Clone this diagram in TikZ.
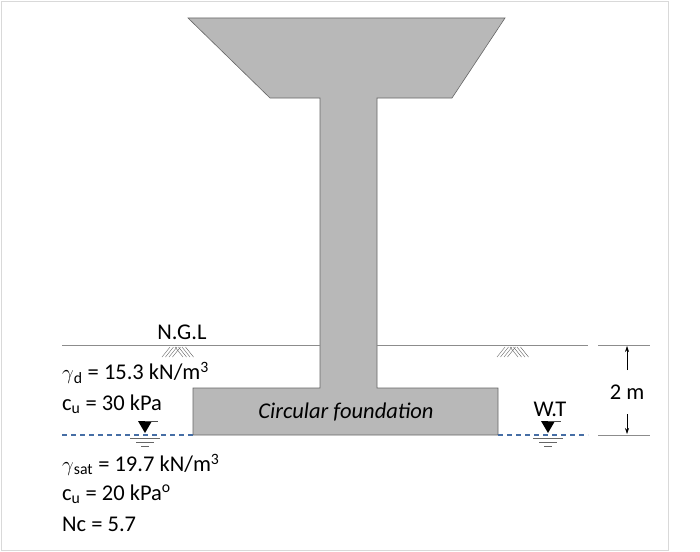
\documentclass[tikz,border=0pt]{standalone}
\usepackage{fontspec}
\setmainfont{Carlito}
\usetikzlibrary{arrows.meta}
\definecolor{wtblue}{RGB}{70,110,165}
\begin{document}
\begin{tikzpicture}[x=1pt,y=-1pt,
  body/.style={fill=black!28,draw=black!60,line width=0.6pt},
  gl/.style={draw=black!45,line width=0.8pt},
  wt/.style={draw=wtblue,dash pattern=on 5pt off 4pt,line width=1.4pt},
  hat/.style={draw=black!60,line width=0.4pt},
  fnt/.style={font=\fontsize{22.5}{26}\selectfont},
  txt/.style={fnt,anchor=west,inner sep=0pt},
  dim/.style={draw=black,line width=0.6pt,-{Stealth[length=6pt,width=4pt]}}]
\useasboundingbox (0,0) rectangle (700,551);
\draw[black!15] (1,1) rectangle (668,550);
% structure
\path[body] (188,18) -- (505,18) -- (452,98) -- (377,98) -- (377,388) -- (498,388) -- (498,435) -- (193,435) -- (193,388) -- (320,388) -- (320,98) -- (270,98) -- cycle;
\node[font=\fontsize{22.5}{26}\selectfont\itshape] (cf) at (346,412) {Circular foundation};
% ground
\draw[gl] (62,345) -- (320,345);
\draw[gl] (377,345) -- (588,345);
\draw[gl] (598,345) -- (650,345);
\draw[gl] (598,435) -- (650,435);
\node[fnt] (ngl) at (182,332) {N.G.L};
\foreach \cx in {175,510}{
 \foreach \i in {0,...,3} \draw[hat] (\cx-13+\i*3.5,357) -- (\cx-5+\i*3.5,347);
 \foreach \i in {0,...,3} \draw[hat] (\cx+\i*3.5,347) -- (\cx+8+\i*3.5,357);
}
% water
\draw[wt] (62,435) -- (193,435);
\draw[wt] (498,435) -- (588,435);
\foreach \cx in {145,548}{
 \fill[black] (\cx-7,421) -- (\cx+7,421) -- (\cx,433) -- cycle;
 \draw[black!70] (\cx,421) -- (\cx+13,421);
 \draw[black!60] (\cx-15,438) -- (\cx+15,438);
 \draw[black!60] (\cx-9,442) -- (\cx+9,442);
 \draw[black!60] (\cx-4,446) -- (\cx+4,446);
}
\node[fnt] (wtl) at (550,409) {W.T};
% dimension
\coordinate (d1) at (627,370);
\coordinate (d1e) at (627,346);
\coordinate (d2) at (627,414);
\coordinate (d2e) at (627,434);
\draw[dim] (d1) -- (d1e);
\draw[dim] (d2) -- (d2e);
\node[fnt] (dm) at (627,392) {2 m};
% soil text
\node[txt] (t1) at (62,373) {$\gamma$\textsubscript{d} = 15.3 kN/m\textsuperscript{3}};
\node[txt] (t2) at (62,404) {c\textsubscript{u} = 30 kPa};
\node[txt] (t3) at (62,465) {$\gamma$\textsubscript{sat} = 19.7 kN/m\textsuperscript{3}};
\node[txt] (t4) at (62,494) {c\textsubscript{u} = 20 kPa\textsuperscript{o}};
\node[txt] (t5) at (62,524) {Nc = 5.7};
\end{tikzpicture}
\end{document}
